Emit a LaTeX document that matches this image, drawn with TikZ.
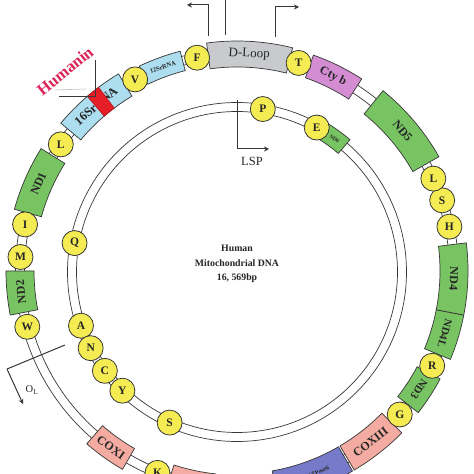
\documentclass[tikz,border=0pt]{standalone}
\usepackage{fontspec}
\setmainfont{Liberation Serif}
\usetikzlibrary{arrows.meta}
\definecolor{linec}{RGB}{55,55,55}
\definecolor{trnay}{RGB}{244,236,82}
\definecolor{geneg}{RGB}{120,196,98}
\definecolor{rrnab}{RGB}{172,222,240}
\definecolor{dloopc}{RGB}{200,202,205}
\definecolor{cytc}{RGB}{212,140,210}
\definecolor{coxc}{RGB}{244,172,162}
\definecolor{atpc}{RGB}{118,122,200}
\definecolor{bandc}{RGB}{230,30,40}
\definecolor{humc}{RGB}{220,36,86}
\tikzset{
  ringline/.style={draw=linec, line width=0.7pt},
  boxline/.style={draw=linec, line width=0.7pt},
  trna/.style={circle, draw=linec, line width=0.8pt, fill=trnay, minimum size=25pt, inner sep=0pt, font=\bfseries\fontsize{11.5}{11.5}\selectfont, text=black!85},
  glabel/.style={font=\bfseries\fontsize{12}{12}\selectfont, text=black!85, inner sep=0pt},
  arrline/.style={draw=linec, line width=1pt},
  tipped/.style={-{Stealth[length=5pt,width=5pt]}},
  plaintext/.style={inner sep=0pt, text=black!85}
}
% #1 name, #2 start angle, #3 end angle, #4 half thickness, #5 fill, #6 label, #7 rotation, #8 extra style, #9 radius
\newcommand{\gbox}[9]{%
  \draw[boxline, fill=#5] ({#2}:{#9-#4}) arc[start angle=#2, end angle=#3, radius={(#9-#4)*1pt}] -- ({#3}:{#9+#4}) arc[start angle=#3, end angle=#2, radius={(#9+#4)*1pt}] -- cycle;
  \node[glabel, #8, rotate=#7] (#1) at ({(#2+#3)/2}:#9) {#6};
}
\begin{document}
\begin{tikzpicture}[x=1pt,y=1pt]
\useasboundingbox (0,0) rectangle (474,474);
\clip (0,0) rectangle (474,474);
\fill[white] (0,0) rectangle (474,474);

% ---------- inner ring ----------
\begin{scope}[shift={(237,202)}]
  \coordinate (IC) at (0,0);
  \draw[ringline] (0,0) circle[radius=160.5pt];
  \draw[ringline] (0,0) circle[radius=169.5pt];
  \gbox{nd6}{49.5}{58}{9}{geneg}{ND6}{-36}{font=\bfseries\fontsize{5.5}{5.5}\selectfont}{165}
  \node[trna] (iP) at (81:165) {P};
  \node[trna] (iE) at (61.1:165) {E};
  \node[trna] (iQ) at (169.9:165) {Q};
  \node[trna] (iA) at (199:165) {A};
  \node[trna] (iN) at (207.5:165) {N};
  \node[trna] (iC) at (216.8:165) {C};
  \node[trna] (iY) at (226:165) {Y};
  \node[trna] (iS) at (245.9:165) {S};
\end{scope}

% ---------- outer ring ----------
\begin{scope}[shift={(237,203)}]
  \coordinate (OC) at (0,0);
  \draw[ringline] (0,0) circle[radius=212.5pt];
  \draw[ringline] (0,0) circle[radius=221.5pt];
  \gbox{dloop}{76}{97.6}{13}{dloopc}{D-Loop}{-3.2}{font=\fontsize{13}{13}\selectfont}{217}
  \gbox{s12}{104.5}{115.5}{10}{rrnab}{12SrRNA}{20}{font=\bfseries\fontsize{6.5}{6.5}\selectfont}{217}
  \gbox{s16}{121}{140}{13}{rrnab}{16SrRNA}{40.5}{font=\bfseries\fontsize{12.5}{12.5}\selectfont}{217}
  \draw[boxline, draw=bandc!80!black, fill=bandc] ({127}:{204}) arc[start angle=127, end angle=130.6, radius=204pt] -- ({130.6}:{230}) arc[start angle=130.6, end angle=127, radius=230pt] -- cycle;
  \gbox{nd1}{148}{164.5}{14}{geneg}{ND1}{66}{}{217}
  \gbox{nd2}{180}{191}{14}{geneg}{ND2}{95.5}{}{217}
  \gbox{coxi}{229}{240}{12}{coxc}{COXI}{-35.5}{}{217}
  \draw[boxline, fill=coxc] ({252}:{204}) arc[start angle=252, end angle=264, radius=204pt] -- ({264}:{230}) arc[start angle=264, end angle=252, radius=230pt] -- cycle;
  \gbox{atp6}{280}{300}{14}{atpc}{}{20}{}{217}
  \node[glabel, font=\bfseries\fontsize{6}{6}\selectfont, rotate=22] (atp6l) at (292:217) {ATPase6};
  \gbox{coxiii}{300.5}{315.5}{14}{coxc}{COXIII}{38}{}{217}
  \gbox{nd3}{322}{332}{13}{geneg}{ND3}{-123}{font=\bfseries\fontsize{11}{11}\selectfont}{217}
  \gbox{nd4l}{337.5}{349}{14}{geneg}{ND4L}{253.25}{font=\bfseries\fontsize{11}{11}\selectfont}{217}
  \gbox{nd4}{349}{367}{14}{geneg}{ND4}{268}{}{217}
  \gbox{nd5}{29.5}{51}{15}{geneg}{ND5}{-49.75}{}{217}
  \gbox{cytb}{57}{70.5}{12}{cytc}{Cty b}{-26.25}{}{217}
  \node[trna] (oF) at (100.6:217) {F};
  \node[trna] (oV) at (118:217) {V};
  \node[trna] (oL1) at (144.3:217) {L};
  \node[trna] (oI) at (167.6:217) {I};
  \node[trna] (oM) at (176.3:217) {M};
  \node[trna] (oW) at (194.9:217) {W};
  \node[trna] (oK) at (248.5:217) {K};
  \node[trna] (oG) at (318.6:217) {G};
  \node[trna] (oR) at (334.1:217) {R};
  \node[trna] (oH) at (11.8:217) {H};
  \node[trna] (oS) at (19:217) {S};
  \node[trna] (oL2) at (25.2:217) {L};
  \node[trna] (oT) at (73.5:217) {T};
\end{scope}

% ---------- Humanin marker ----------
\coordinate (hv1) at (95,414);
\coordinate (hc) at (95,378);
\coordinate (hh1) at (59,378);
\draw[line width=0.8pt, draw=linec] (hv1) -- (hc) -- (hh1);
\coordinate (hg1) at (55,384);
\coordinate (hg2) at (86,385);
\draw[line width=0.6pt, draw=black!25] (hg1) -- (hg2);
\node[font=\bfseries\fontsize{16.5}{16.5}\selectfont, text=humc, rotate=39, inner sep=0pt] (humanin) at (65,403) {Humanin};

% ---------- promoters (top) ----------
\coordinate (hA0) at (208,438);
\coordinate (hA1) at (208,469);
\coordinate (hA2) at (187,469);
\draw[arrline, tipped] (hA0) -- (hA1) -- (hA2);
\coordinate (hB0) at (225,439);
\coordinate (hB1) at (225,480);
\draw[arrline] (hB0) -- (hB1);
\coordinate (hC0) at (275,437);
\coordinate (hC1) at (275,467);
\coordinate (hC2) at (299,467);
\draw[arrline, tipped] (hC0) -- (hC1) -- (hC2);

% ---------- LSP ----------
\coordinate (lsp0) at (237,374);
\coordinate (lsp1) at (237,325);
\coordinate (lsp2) at (269,325);
\draw[arrline, tipped] (lsp0) -- (lsp1) -- (lsp2);
\node[plaintext, font=\fontsize{12.5}{12.5}\selectfont] (lsp) at (252,313) {LSP};

% ---------- O_L ----------
\coordinate (ol0) at (65,129);
\coordinate (ol1) at (7,105);
\coordinate (ol2) at (23,70);
\draw[arrline] (ol0) -- (ol1);
\draw[arrline, tipped] (ol1) -- (ol2);
\node[plaintext, font=\fontsize{10.5}{10.5}\selectfont] (ol) at (32,84) {O\textsubscript{L}};

% ---------- centre text ----------
\node[plaintext, font=\bfseries\fontsize{9.8}{9.8}\selectfont] (t1) at (237,226) {Human};
\node[plaintext, font=\bfseries\fontsize{9.8}{9.8}\selectfont] (t2) at (237,211) {Mitochondrial DNA};
\node[plaintext, font=\bfseries\fontsize{9.8}{9.8}\selectfont] (t3) at (237,195.5) {16, 569bp};
\end{tikzpicture}
\end{document}
